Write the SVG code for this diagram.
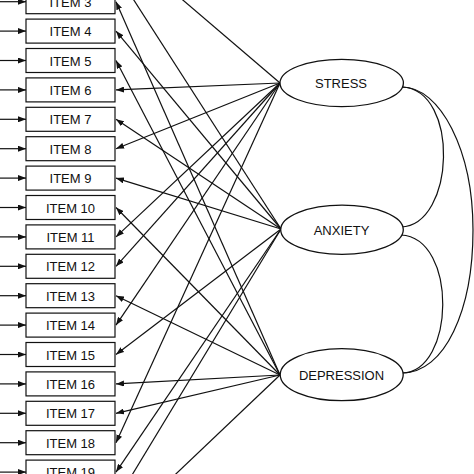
<svg xmlns="http://www.w3.org/2000/svg" width="474" height="474" viewBox="0 0 474 474">
<defs>
<marker id="ah" markerWidth="8" markerHeight="6" refX="8" refY="3" orient="auto" markerUnits="userSpaceOnUse"><path d="M0,0 L8,3 L0,6 z" fill="#111"/></marker>
<style>
.box{fill:#fff;stroke:#111;stroke-width:1.2}
.lbl{font-family:"Liberation Sans",Arial,sans-serif;font-size:13px;fill:#111;text-anchor:middle}
.ln{stroke:#111;stroke-width:1.2;fill:none}
.ar{stroke:#111;stroke-width:1.2;fill:none;marker-end:url(#ah)}
.ell{fill:#fff;stroke:#111;stroke-width:1.3}
</style>
</defs>
<rect width="474" height="474" fill="#fff"/>
<g id="connectors">
<!-- input arrows -->
<line class="ar" x1="0" y1="1.7" x2="26" y2="1.7"/>
<line class="ar" x1="0" y1="31.1" x2="26" y2="31.1"/>
<line class="ar" x1="0" y1="60.5" x2="26" y2="60.5"/>
<line class="ar" x1="0" y1="89.9" x2="26" y2="89.9"/>
<line class="ar" x1="0" y1="119.3" x2="26" y2="119.3"/>
<line class="ar" x1="0" y1="148.7" x2="26" y2="148.7"/>
<line class="ar" x1="0" y1="178.1" x2="26" y2="178.1"/>
<line class="ar" x1="0" y1="207.5" x2="26" y2="207.5"/>
<line class="ar" x1="0" y1="236.9" x2="26" y2="236.9"/>
<line class="ar" x1="0" y1="266.3" x2="26" y2="266.3"/>
<line class="ar" x1="0" y1="295.7" x2="26" y2="295.7"/>
<line class="ar" x1="0" y1="325.1" x2="26" y2="325.1"/>
<line class="ar" x1="0" y1="354.5" x2="26" y2="354.5"/>
<line class="ar" x1="0" y1="383.9" x2="26" y2="383.9"/>
<line class="ar" x1="0" y1="413.3" x2="26" y2="413.3"/>
<line class="ar" x1="0" y1="442.7" x2="26" y2="442.7"/>
<line class="ar" x1="0" y1="472.1" x2="26" y2="472.1"/>
<!-- stress -->
<line class="ar" x1="280" y1="83" x2="116" y2="-57.1"/>
<line class="ar" x1="280" y1="83" x2="116" y2="89.9"/>
<line class="ar" x1="280" y1="83" x2="116" y2="148.7"/>
<line class="ar" x1="280" y1="83" x2="116" y2="236.9"/>
<line class="ar" x1="280" y1="83" x2="116" y2="266.3"/>
<line class="ar" x1="280" y1="83" x2="116" y2="325.1"/>
<line class="ar" x1="280" y1="83" x2="116" y2="442.7"/>
<!-- anxiety -->
<line class="ar" x1="281" y1="229" x2="116" y2="-27.7"/>
<line class="ar" x1="281" y1="229" x2="116" y2="31.1"/>
<line class="ar" x1="281" y1="229" x2="116" y2="119.3"/>
<line class="ar" x1="281" y1="229" x2="116" y2="178.1"/>
<line class="ar" x1="281" y1="229" x2="116" y2="354.5"/>
<line class="ar" x1="281" y1="229" x2="116" y2="472.1"/>
<line class="ar" x1="281" y1="229" x2="116" y2="501.5"/>
<!-- depression -->
<line class="ar" x1="280" y1="375" x2="116" y2="1.7"/>
<line class="ar" x1="280" y1="375" x2="116" y2="60.5"/>
<line class="ar" x1="280" y1="375" x2="116" y2="207.5"/>
<line class="ar" x1="280" y1="375" x2="116" y2="295.7"/>
<line class="ar" x1="280" y1="375" x2="116" y2="383.9"/>
<line class="ar" x1="280" y1="375" x2="116" y2="413.3"/>
<line class="ar" x1="280" y1="375" x2="116" y2="530.9"/>
<!-- covariances -->
<path class="ln" d="M402,87 C460,90 455,225 401,227"/>
<path class="ln" d="M401,235 C458,238 455,372 402,373"/>
<path class="ln" d="M402,87 C440,87 473,150 473,230 C473,310 445,373 402,373"/>
</g>
<g id="item3"><rect class="box" x="26" y="-10.3" width="89" height="24"/><text class="lbl" x="70.5" y="6.7">ITEM 3</text></g>
<g id="item4"><rect class="box" x="26" y="19.1" width="89" height="24"/><text class="lbl" x="70.5" y="36.1">ITEM 4</text></g>
<g id="item5"><rect class="box" x="26" y="48.5" width="89" height="24"/><text class="lbl" x="70.5" y="65.5">ITEM 5</text></g>
<g id="item6"><rect class="box" x="26" y="77.9" width="89" height="24"/><text class="lbl" x="70.5" y="94.9">ITEM 6</text></g>
<g id="item7"><rect class="box" x="26" y="107.3" width="89" height="24"/><text class="lbl" x="70.5" y="124.3">ITEM 7</text></g>
<g id="item8"><rect class="box" x="26" y="136.7" width="89" height="24"/><text class="lbl" x="70.5" y="153.7">ITEM 8</text></g>
<g id="item9"><rect class="box" x="26" y="166.1" width="89" height="24"/><text class="lbl" x="70.5" y="183.1">ITEM 9</text></g>
<g id="item10"><rect class="box" x="26" y="195.5" width="89" height="24"/><text class="lbl" x="70.5" y="212.5">ITEM 10</text></g>
<g id="item11"><rect class="box" x="26" y="224.9" width="89" height="24"/><text class="lbl" x="70.5" y="241.9">ITEM 11</text></g>
<g id="item12"><rect class="box" x="26" y="254.3" width="89" height="24"/><text class="lbl" x="70.5" y="271.3">ITEM 12</text></g>
<g id="item13"><rect class="box" x="26" y="283.7" width="89" height="24"/><text class="lbl" x="70.5" y="300.7">ITEM 13</text></g>
<g id="item14"><rect class="box" x="26" y="313.1" width="89" height="24"/><text class="lbl" x="70.5" y="330.1">ITEM 14</text></g>
<g id="item15"><rect class="box" x="26" y="342.5" width="89" height="24"/><text class="lbl" x="70.5" y="359.5">ITEM 15</text></g>
<g id="item16"><rect class="box" x="26" y="371.9" width="89" height="24"/><text class="lbl" x="70.5" y="388.9">ITEM 16</text></g>
<g id="item17"><rect class="box" x="26" y="401.3" width="89" height="24"/><text class="lbl" x="70.5" y="418.3">ITEM 17</text></g>
<g id="item18"><rect class="box" x="26" y="430.7" width="89" height="24"/><text class="lbl" x="70.5" y="447.7">ITEM 18</text></g>
<g id="item19"><rect class="box" x="26" y="460.1" width="89" height="24"/><text class="lbl" x="70.5" y="477.1">ITEM 19</text></g>
<g id="stress"><ellipse class="ell" cx="341.7" cy="83" rx="61.7" ry="23.7"/><text class="lbl" x="341" y="88">STRESS</text></g>
<g id="anxiety"><ellipse class="ell" cx="342" cy="229.7" rx="61.3" ry="24.6"/><text class="lbl" x="341.5" y="234.7">ANXIETY</text></g>
<g id="depression"><ellipse class="ell" cx="341.7" cy="374.7" rx="61.5" ry="26"/><text class="lbl" x="341.5" y="379.7">DEPRESSION</text></g>
</svg>
